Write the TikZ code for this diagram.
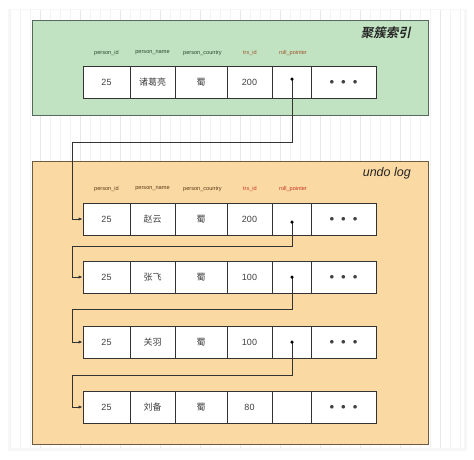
\documentclass[tikz,border=0pt]{standalone}
\usepackage{fontspec}
\setmainfont{Liberation Sans}
\newfontfamily\cjk{Noto Sans CJK SC}
\newfontfamily\cjkb[FakeSlant=0.2]{Noto Sans CJK SC Bold}
\usetikzlibrary{arrows.meta}
\definecolor{gfill}{HTML}{C1E3C1}
\definecolor{gline}{HTML}{56695A}
\definecolor{ofill}{HTML}{FBD9A2}
\definecolor{oline}{HTML}{6E5A3C}
\definecolor{ghead}{HTML}{2E4A2E}
\definecolor{gred}{HTML}{A0522D}
\definecolor{ohead}{HTML}{5A3A1C}
\definecolor{ored}{HTML}{C8341E}
\definecolor{gridc}{HTML}{F2F2F2}
\definecolor{gridm}{HTML}{E8E8E8}
\definecolor{lnc}{HTML}{333333}
\tikzset{
  cell/.style={draw=lnc, line width=0.8pt, fill=white, inner sep=0pt, minimum height=32pt, font=\fontsize{9}{10}\selectfont, text=black!75},
  hdr/.style={font=\fontsize{5.6}{6}\selectfont, inner sep=0pt},
  ptr/.style={draw=lnc, line width=0.7pt, -{Latex[length=4pt,width=3.2pt]}},
  dotm/.style={circle, fill=black, inner sep=0pt, minimum size=3.5pt},
  ttl/.style={anchor=east, inner sep=0pt, text=black!85}
}
\begin{document}
\begin{tikzpicture}[x=1pt,y=-1pt]
\useasboundingbox (0,0) rectangle (474,459);
\fill[white] (0,0) rectangle (474,459);
% paper shadow
\fill[black!3] (8,9) rectangle (467,451);
\fill[white] (10,10) rectangle (464,448);
\draw[gridc, line width=0.6pt] (10,10) grid[step=10] (464,448);
\draw[gridm, line width=0.6pt] (10,10) grid[step=40] (464,448);
% boxes
\node[draw=gline, fill=gfill, line width=0.9pt, minimum width=396pt, minimum height=95pt, inner sep=0pt] (gbox) at (230,67.5) {};
\node[draw=oline, fill=ofill, line width=0.9pt, minimum width=396pt, minimum height=283pt, inner sep=0pt] (obox) at (230,302.5) {};
\node[ttl, font=\fontsize{12.5}{14}\cjkb] (gt) at (411,33) {聚簇索引};
\node[ttl, font=\fontsize{12.5}{14}\itshape] (ot) at (411,173) {undo log};
% headers
\foreach \y/\hc/\rc/\n in {53/ghead/gred/g, 189/ohead/ored/o}{
  \node[hdr, text=\hc] (h\n1) at (106.5,\y) {person\_id};
  \node[hdr, text=\hc] (h\n2) at (152.5,\y) {person\_name};
  \node[hdr, text=\hc] (h\n3) at (202.5,\y) {person\_country};
  \node[hdr, text=\rc] (h\n4) at (250,\y) {trx\_id};
  \node[hdr, text=\rc] (h\n5) at (293,\y) {roll\_pointer};
}
% rows
\foreach \r/\y/\name/\trx in {0/82/诸葛亮/200, 1/219/赵云/200, 2/277/张飞/100, 3/342/关羽/100, 4/407/刘备/80}{
  \node[cell, minimum width=47pt] (r\r c1) at (106.5,\y) {25};
  \node[cell, minimum width=45pt] (r\r c2) at (152.5,\y) {\cjk \name};
  \node[cell, minimum width=52pt] (r\r c3) at (201,\y) {\cjk 蜀};
  \node[cell, minimum width=45pt] (r\r c4) at (249.5,\y) {\trx};
  \node[cell, minimum width=39pt] (r\r c5) at (291.5,\y) {};
  \node[cell, minimum width=65pt] (r\r c6) at (343.5,\y) {$\bullet\ \ \bullet\ \ \bullet$};
}
% pointers
\coordinate (p0) at (292,79);
\coordinate (p1) at (292,222);
\coordinate (p2) at (292,277);
\coordinate (p3) at (292,342);
\coordinate (j0) at (72,142);
\coordinate (j1) at (72,246);
\coordinate (j2) at (72,309);
\coordinate (j3) at (72,375);
\foreach \i/\k in {0/1,1/2,2/3,3/4}{
  \draw[ptr] (p\i) |- (j\i) |- (r\k c1.west);
  \node[dotm] (d\i) at (p\i) {};
}
\end{tikzpicture}
\end{document}
